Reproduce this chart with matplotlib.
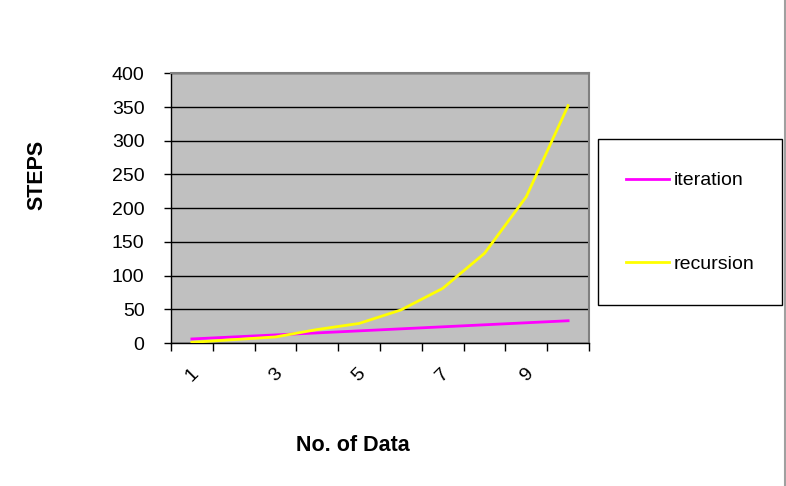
import numpy as np
import matplotlib.pyplot as plt
from matplotlib.patches import Rectangle
from matplotlib.lines import Line2D

plt.rcParams['font.family'] = ['Liberation Sans', 'DejaVu Sans']

categories = [1, 2, 3, 4, 5, 6, 7, 8, 9, 10]
tick_labels = ['1', '', '3', '', '5', '', '7', '', '9', '']
iteration = [6, 9, 12, 15, 18, 21, 24, 27, 30, 33]
recursion = [1, 5, 9, 20, 29, 49, 81, 133, 217, 352]

W, H = 786, 486
fig = plt.figure(figsize=(W / 100, H / 100), dpi=100)
ax = fig.add_axes([171 / W, 1 - 343 / H, (589 - 171) / W, (343 - 73.3) / H])
ax.set_facecolor('#c0c0c0')

x = np.arange(len(categories))
ax.plot(x, iteration, color='#ff00ff', lw=2, label='iteration', zorder=3)
ax.plot(x, recursion, color='#ffff00', lw=2, label='recursion', zorder=3)

ax.set_xlim(-0.5, len(categories) - 0.5)
ax.set_ylim(0, 400)
ax.set_yticks(np.arange(0, 401, 50))
ax.yaxis.grid(True, color='black', lw=1)
ax.set_axisbelow(True)

# category boundaries get the tick marks, labels sit in the middle
ax.set_xticks(np.arange(-0.5, len(categories), 1))
ax.set_xticklabels([])
ax.set_xticks(x, minor=True)
ax.set_xticklabels(tick_labels, minor=True, rotation=45, fontsize=14,
                   ha='center', va='center')
ax.tick_params(axis='x', which='minor', length=0, pad=23)
ax.tick_params(axis='x', which='major', length=6, width=1, direction='out')
ax.tick_params(axis='y', length=5, width=1, direction='out', pad=14, labelsize=14)

for s in ['top', 'right']:
    ax.spines[s].set_color('#808080')
    ax.spines[s].set_linewidth(1.5)
for s in ['left', 'bottom']:
    ax.spines[s].set_color('black')
    ax.spines[s].set_linewidth(1)

fig.text(37 / W, 1 - 175 / H, 'STEPS', rotation=90, ha='center', va='center',
         fontsize=15.5, fontweight='bold')
fig.text(353 / W, 1 - 445 / H, 'No. of Data', ha='center', va='center',
         fontsize=15.5, fontweight='bold')

# legend box
fig.add_artist(Rectangle((598 / W, 1 - 305 / H), (782 - 598) / W, (305 - 139) / H,
                         transform=fig.transFigure, fill=False, ec='black', lw=1))
fig.legend(loc='center left', bbox_to_anchor=(626 / W, 1 - 222.5 / H),
           frameon=False, fontsize=14, handlelength=2.2, handletextpad=0.25,
           labelspacing=3.4, borderpad=0, borderaxespad=0)

fig.add_artist(Line2D([784.5 / W, 784.5 / W], [0, 1], transform=fig.transFigure,
                      color='#a0a0a0', lw=1.5))

fig.savefig('out.png', dpi=100)
